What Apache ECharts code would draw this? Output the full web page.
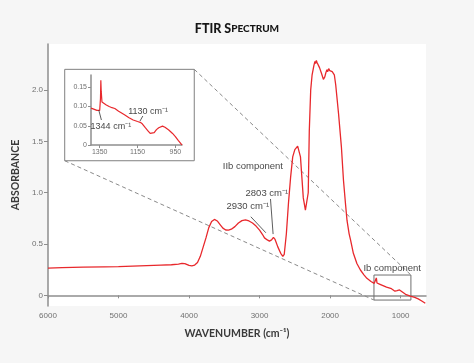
<!DOCTYPE html>
<html><head><meta charset="utf-8">
<script src="https://cdn.jsdelivr.net/npm/echarts@6/dist/echarts.min.js"></script>
<style>html,body{margin:0;padding:0;background:#f6f6f6}#c{width:474px;height:363px}</style>
</head><body><div id="c"></div>
<script>
// Main spectrum: wavenumber (cm-1) and absorbance
var wavenumber = [6000,5800,5500,5200,5000,4800,4600,4400,4250,4150,4100,4060,4000,3960,3920,3880,3840,3800,3760,3720,3680,3640,3600,3560,3520,3480,3440,3400,3350,3300,3250,3200,3150,3100,3050,3000,2960,2930,2890,2860,2830,2803,2780,2740,2700,2670,2650,2620,2590,2560,2530,2500,2460,2440,2420,2400,2380,2350,2330,2310,2295,2275,2255,2230,2215,2205,2195,2185,2170,2150,2120,2095,2075,2060,2045,2035,2020,2005,1990,1970,1955,1940,1920,1880,1840,1810,1780,1760,1730,1710,1670,1620,1570,1520,1478,1420,1374,1350,1344,1335,1300,1250,1200,1130,1080,1050,1015,980,930,862,800,750,700,650];
var absorbance = [0.265,0.27,0.275,0.278,0.28,0.285,0.29,0.295,0.298,0.305,0.312,0.31,0.292,0.288,0.295,0.32,0.38,0.47,0.56,0.66,0.72,0.74,0.725,0.69,0.655,0.637,0.635,0.645,0.67,0.705,0.728,0.735,0.725,0.705,0.675,0.635,0.595,0.56,0.54,0.528,0.54,0.565,0.545,0.47,0.41,0.38,0.4,0.6,0.9,1.15,1.35,1.42,1.455,1.45,1.35,1.15,0.95,0.83,0.815,1.0,1.6,2.0,2.15,2.24,2.28,2.26,2.29,2.27,2.265,2.22,2.16,2.105,2.13,2.17,2.2,2.18,2.21,2.19,2.2,2.18,2.185,2.15,2.05,1.77,1.45,1.12,0.88,0.73,0.6,0.54,0.41,0.31,0.247,0.2,0.166,0.135,0.117,0.11,0.17,0.12,0.11,0.095,0.08,0.065,0.04,0.045,0.052,0.035,0.01,-0.007,-0.02,-0.035,-0.055,-0.078];

// Inset (Ib component region)
var insetWavenumber = [1396,1385,1375,1365,1356,1350,1346,1344,1342,1338,1330,1315,1300,1285,1270,1250,1230,1217,1195,1173,1150,1136,1125,1109,1095,1083,1074,1062,1050,1038,1028,1018,1005,985,965,950,935,920,915];
var insetAbsorbance = [0.096,0.094,0.092,0.090,0.089,0.090,0.120,0.168,0.140,0.112,0.108,0.104,0.100,0.097,0.095,0.088,0.082,0.078,0.071,0.065,0.061,0.059,0.055,0.045,0.037,0.030,0.029,0.032,0.040,0.045,0.048,0.049,0.046,0.039,0.030,0.022,0.012,0.003,0];

// Tick labels
var xTicks = [6000,5000,4000,3000,2000,1000];
var yTicks = [0,0.5,1.0,1.5,2.0];
var insetXTicks = [1350,1150,950];
var insetYTicks = [0,0.05,0.10,0.15];

// Annotation geometry (data coordinates of the main axes)
var ibBox = [[1378,0.198],[854,0.198],[854,-0.046],[1378,-0.046],[1378,0.198]];
var insetFrame = [[5763,2.203],[3926,2.203],[3926,1.312],[5763,1.312],[5763,2.203]];
var zoomLineTop = [[3926,2.203],[854,0.198]];
var zoomLineBottom = [[5763,1.312],[1378,-0.046]];
var leader2930 = [[3124,0.766],[2911,0.610]];
var leader2803 = [[2845,0.939],[2808,0.597]];
var mainLabels = [[3095,1.253,'IIb component'],[2897,0.994,'2803 cm⁻¹'],[3167,0.864,'2930 cm⁻¹'],[1119,0.263,'Ib component']];
// inset annotations (inset axes)
var leader1344 = [[1355,0.091],[1341,0.065]];
var leader1130 = [[1122,0.0754],[1137,0.0624]];
var insetLabels = [[1291,0.049,'1344 cm⁻¹'],[1094,0.0866,'1130 cm⁻¹']];

function zip(a,b){return a.map(function(v,i){return [v,b[i]];});}
var red = '#e8282c', axisGrey = '#8e8e8e', tickText = '#707070';
var FONT = 'Liberation Sans, Arial, sans-serif';

var chart = echarts.init(document.getElementById('c'), null, {renderer:'canvas'});
function lineSeries(data, opts, xi){
  return Object.assign({type:'line', data:data, symbol:'none', silent:true, animation:false,
    xAxisIndex:xi||0, yAxisIndex:xi||0, lineStyle:{color:'#555', width:0.8}}, opts||{});
}
chart.setOption({
  animation:false,
  backgroundColor:'#f6f6f6',
  title:{text:'{a|FTIR S}{b|PECTRUM}', left:'center', top:17,
    textStyle:{rich:{a:{fontFamily:'Lato', fontWeight:900, fontSize:12.5, color:'#161616'},
                     b:{fontFamily:'Lato', fontWeight:900, fontSize:10, color:'#161616'}}}},
  grid:[
    {left:48, right:48, top:44, bottom:57, show:true, backgroundColor:'#ffffff', borderWidth:0},
    {left:91, right:292, top:75, bottom:218, show:false}
  ],
  xAxis:[
    {type:'value', inverse:true, min:640, max:6000, gridIndex:0,
     name:'WAVENUMBER (cm⁻¹)', nameLocation:'middle', nameGap:22,
     nameTextStyle:{fontFamily:'Lato', fontSize:10.5, fontWeight:'bold', color:'#3a3a3a'},
     axisLine:{lineStyle:{color:axisGrey, width:1.5}},
     axisTick:{show:true, length:3, customValues:xTicks, lineStyle:{color:axisGrey}},
     axisLabel:{customValues:xTicks, color:tickText, fontSize:8, fontFamily:FONT, margin:6,
       formatter:function(v){return String(v);}},
     splitLine:{show:false}},
    {type:'value', inverse:true, min:915, max:1396, gridIndex:1,
     axisLine:{lineStyle:{color:axisGrey, width:1.5}},
     axisTick:{show:true, length:3, customValues:insetXTicks, lineStyle:{color:axisGrey}},
     axisLabel:{customValues:insetXTicks, color:tickText, fontSize:7, fontFamily:FONT, margin:4,
       formatter:function(v){return String(v);}},
     splitLine:{show:false}}
  ],
  yAxis:[
    {type:'value', min:-0.104, max:2.45, gridIndex:0,
     name:'ABSORBANCE', nameLocation:'middle', nameGap:22,
     nameTextStyle:{fontFamily:'Lato', fontSize:10.5, fontWeight:'bold', color:'#3a3a3a'},
     axisLine:{show:true, lineStyle:{color:axisGrey, width:1.5}},
     axisTick:{show:true, length:4, customValues:yTicks, lineStyle:{color:axisGrey}},
     axisLabel:{customValues:yTicks, color:tickText, fontSize:8, fontFamily:FONT, margin:5,
       formatter:function(v){return v===0?'0':v.toFixed(1);}},
     splitLine:{show:false}},
    {type:'value', min:0, max:0.182, gridIndex:1,
     axisLine:{show:true, lineStyle:{color:axisGrey, width:1.5}},
     axisTick:{show:true, length:3, customValues:insetYTicks, lineStyle:{color:axisGrey}},
     axisLabel:{customValues:insetYTicks, color:tickText, fontSize:7, fontFamily:FONT, margin:4,
       formatter:function(v){return v===0?'0':v.toFixed(2);}},
     splitLine:{show:false}}
  ],
  series:[
    lineSeries(insetFrame, {lineStyle:{color:'#808080', width:1}}),
    lineSeries(ibBox, {lineStyle:{color:'#707070', width:1}}),
    lineSeries(zoomLineTop, {lineStyle:{color:'#8a8a8a', width:1, type:[4,3]}}),
    lineSeries(zoomLineBottom, {lineStyle:{color:'#8a8a8a', width:1, type:[4,3]}}),
    lineSeries(zip(wavenumber, absorbance), {z:5, lineStyle:{color:red, width:1.3}}),
    lineSeries(leader2930, {z:6, lineStyle:{color:'#333', width:0.8}}),
    lineSeries(leader2803, {z:6, lineStyle:{color:'#333', width:0.8}}),
    {type:'scatter', data:mainLabels, symbolSize:0, silent:true, z:7,
     label:{show:true, position:'inside', formatter:function(p){return p.data[2];},
       color:'#111', fontSize:9.5, fontFamily:FONT}},
    lineSeries(zip(insetWavenumber, insetAbsorbance), {xAxisIndex:1, yAxisIndex:1, z:5, lineStyle:{color:red, width:1.2}}),
    lineSeries(leader1344, {xAxisIndex:1, yAxisIndex:1, z:6, lineStyle:{color:'#333', width:0.8}}),
    lineSeries(leader1130, {xAxisIndex:1, yAxisIndex:1, z:6, lineStyle:{color:'#333', width:0.8}}),
    {type:'scatter', data:insetLabels, xAxisIndex:1, yAxisIndex:1, symbolSize:0, silent:true, z:7,
     label:{show:true, position:'inside', formatter:function(p){return p.data[2];},
       color:'#111', fontSize:9, fontFamily:FONT}}
  ]
});
</script></body></html>
